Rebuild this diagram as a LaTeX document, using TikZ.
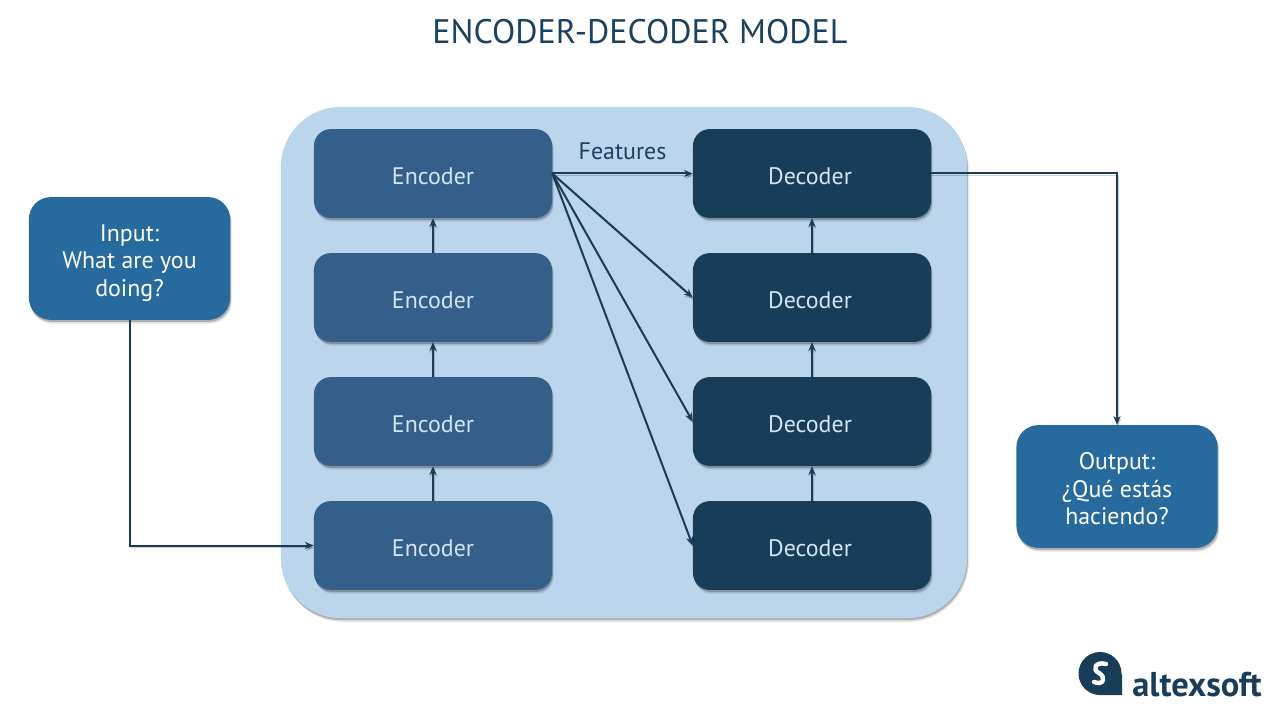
\documentclass[tikz,border=0pt]{standalone}
\usepackage{fontspec}
\setmainfont{PT Sans}
\usetikzlibrary{positioning}
\usetikzlibrary{arrows.meta}
\usetikzlibrary{shadows}
\definecolor{encblue}{HTML}{335F8A}
\definecolor{decblue}{HTML}{183D59}
\definecolor{ioblue}{HTML}{276A9D}
\definecolor{panelblue}{HTML}{BBD5EC}
\definecolor{textpale}{HTML}{D3E4F3}
\definecolor{inkblue}{HTML}{1B4160}
\tikzset{
  softshadow/.style={
    drop shadow={shadow xshift=0.04cm, shadow yshift=-0.09cm, fill=black, opacity=0.12},
    drop shadow={shadow xshift=0.02cm, shadow yshift=-0.05cm, fill=black, opacity=0.22}},
  encbox/.style={rectangle, rounded corners=0.42cm, fill=encblue, text=textpale, minimum width=5.95cm, minimum height=2.22cm, text height=0.53cm, text depth=0cm, font=\fontsize{17}{20}\selectfont, softshadow},
  decbox/.style={encbox, fill=decblue, execute at end node={\hspace*{0.1cm}}},
  iobox/.style={rectangle, rounded corners=0.55cm, fill=ioblue, text=white, align=center, minimum width=5.03cm, minimum height=3.07cm, font=\fontsize{17}{19.6}\selectfont, softshadow},
  link/.style={-{Stealth[length=0.22cm,width=0.18cm]}, draw=decblue, line width=0.05cm,
    preaction={draw=black, opacity=0.18, transform canvas={shift={(0.02cm,-0.05cm)}}}}
}
\begin{document}
\begin{tikzpicture}[x=0.025cm,y=-0.025cm]
            \useasboundingbox (0,0) rectangle (1280,720);
            % Title
            \node[text=inkblue, font=\fontsize{24.2}{28}\selectfont] (title) at (640,32) {ENCODER-DECODER MODEL};
            
            % Panel behind the stacks
            \node[rectangle, rounded corners=1.5cm, fill=panelblue, minimum width=17.15cm, minimum height=12.78cm, softshadow] (panel) at (624,362.5) {};
            
            % Encoder stack
            \node[encbox] (enc1) at (433,173.5) {Encoder};
            \node[encbox] (enc2) at (433,297.5) {Encoder};
            \node[encbox] (enc3) at (433,421.5) {Encoder};
            \node[encbox] (enc4) at (433,545.5) {Encoder};
            
            % Decoder stack
            \node[decbox] (dec1) at (812,173.5) {Decoder};
            \node[decbox] (dec2) at (812,297.5) {Decoder};
            \node[decbox] (dec3) at (812,421.5) {Decoder};
            \node[decbox] (dec4) at (812,545.5) {Decoder};
            
            % Input and output
            \node[iobox] (input) at (129.5,258.5) {\rule{0pt}{0.65cm}Input:\\What are you\\doing?\rule[-0.12cm]{0pt}{0.1cm}};
            \node[iobox] (output) at (1117,486.5) {\rule{0pt}{0.65cm}Output:\\¿Qué estás\\haciendo?\rule[-0.12cm]{0pt}{0.1cm}};
            
            \draw[link] (enc4) -- (enc3);
            \draw[link] (enc3) -- (enc2);
            \draw[link] (enc2) -- (enc1);
            \draw[link] (dec4) -- (dec3);
            \draw[link] (dec3) -- (dec2);
            \draw[link] (dec2) -- (dec1);
            
            \draw[link] (enc1.east) -- node[above=0.2cm, text=inkblue, font=\fontsize{17}{20}\selectfont] (features) {Features} (dec1.west);
            \draw[link] (enc1.east) -- (dec2.west);
            \draw[link] (enc1.east) -- (dec3.west);
            \draw[link] (enc1.east) -- (dec4.west);
            
            \draw[link] (input.south) |- (enc4.west);
            \draw[link] (dec1.east) -| (output.north);
            
            % Logo
            \fill[decblue] (1122,695) -- (1100,695) arc[start angle=90, end angle=450, radius=21.5] -- (1122,674) -- cycle;
            \draw[white, line width=0.11cm, line cap=round] (1106,664) .. controls (1095,661) and (1092,670) .. (1099,673) .. controls (1106,677) and (1104,686) .. (1094,682);
            \node[text=decblue, anchor=west, inner sep=0pt, font=\fontsize{24.5}{28}\selectfont\bfseries] (brand) at (1132,685) {altexsoft};
        \end{tikzpicture}
\end{document}
